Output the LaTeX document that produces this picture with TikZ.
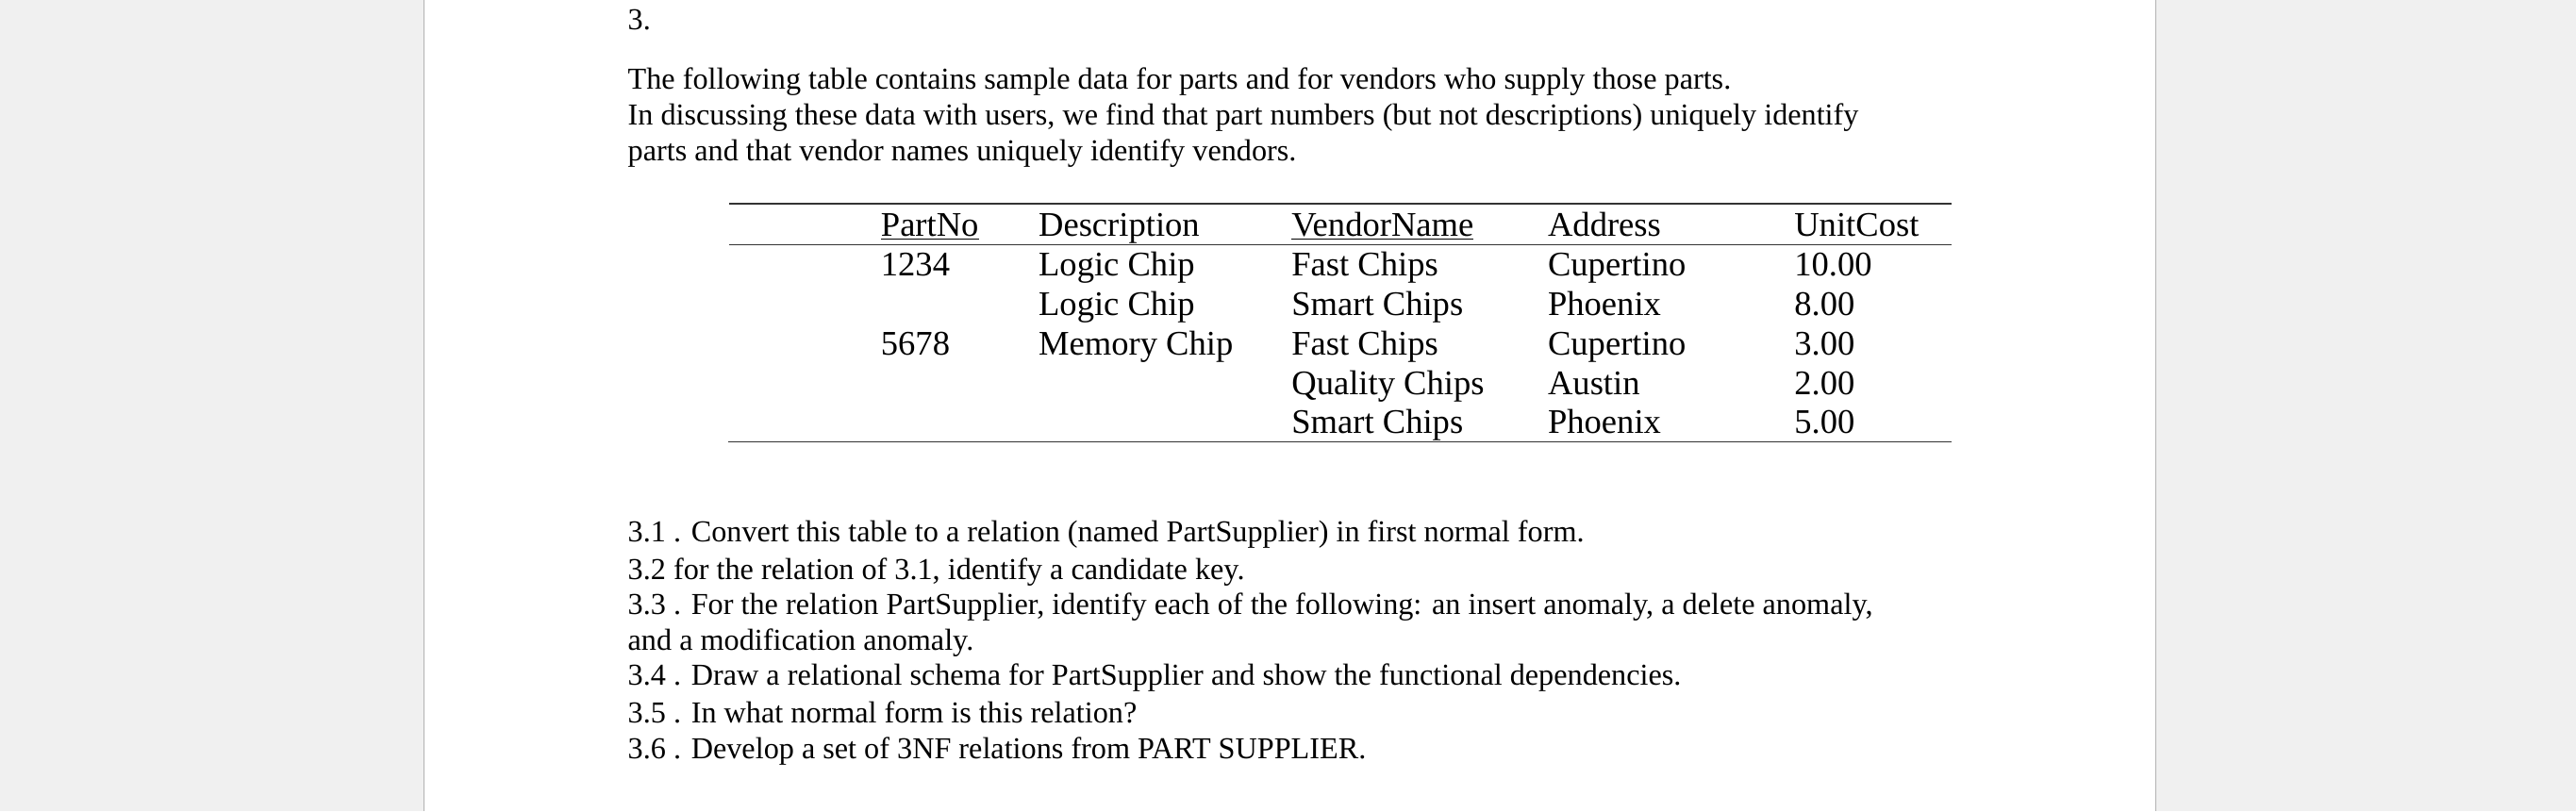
\documentclass[tikz,border=0pt]{standalone}
\usepackage{fontspec}
\setmainfont{Liberation Serif}
\begin{document}
\begin{tikzpicture}[x=1pt,y=-1pt,
  txt/.style={anchor=base west,inner sep=0pt,font=\fontsize{18.5}{22}\selectfont},
  cell/.style={anchor=base west,inner sep=0pt,font=\fontsize{21}{24}\selectfont},
  rule/.style={line width=1pt,black!80}]
\fill[gray!12] (0,0) rectangle (1568,494);
\useasboundingbox (0,0) rectangle (1568,494);
\fill[white] (258,0) rectangle (1312,494);
\draw[gray!60] (258,0) -- (258,494) (1312,0) -- (1312,494);
\node[txt] (n3) at (382,18) {3.};
\node[txt] (p1) at (382,54) {The following table contains sample data for parts and for vendors who supply those parts.};
\node[txt] (p2) at (382,76) {In discussing these data with users, we find that part numbers (but not descriptions) uniquely identify};
\node[txt] (p3) at (382,98) {parts and that vendor names uniquely identify vendors.};
\draw[rule] (444,124) -- (1188,124);
\draw[rule] (444,149) -- (1188,149);
\draw[rule] (443,269) -- (1188,269);
\node[cell] (h1) at (536,144) {\underline{PartNo}};
\node[cell] (h2) at (632,144) {Description};
\node[cell] (h3) at (786,144) {\underline{VendorName}};
\node[cell] (h4) at (942,144) {Address};
\node[cell] (h5) at (1092,144) {UnitCost};
\node[cell] (a1) at (536,168) {1234};
\node[cell] (b1) at (632,168) {Logic Chip};
\node[cell] (c1) at (786,168) {Fast Chips};
\node[cell] (d1) at (942,168) {Cupertino};
\node[cell] (e1) at (1092,168) {10.00};
\node[cell] (b2) at (632,192) {Logic Chip};
\node[cell] (c2) at (786,192) {Smart Chips};
\node[cell] (d2) at (942,192) {Phoenix};
\node[cell] (e2) at (1092,192) {8.00};
\node[cell] (a3) at (536,216) {5678};
\node[cell] (b3) at (632,216) {Memory Chip};
\node[cell] (c3) at (786,216) {Fast Chips};
\node[cell] (d3) at (942,216) {Cupertino};
\node[cell] (e3) at (1092,216) {3.00};
\node[cell] (c4) at (786,240) {Quality Chips};
\node[cell] (d4) at (942,240) {Austin};
\node[cell] (e4) at (1092,240) {2.00};
\node[cell] (c5) at (786,264) {Smart Chips};
\node[cell] (d5) at (942,264) {Phoenix};
\node[cell] (e5) at (1092,264) {5.00};
\node[txt] (q1) at (382,330) {3.1 . Convert this table to a relation (named PartSupplier) in first normal form.};
\node[txt] (q2) at (382,353) {3.2 for the relation of 3.1, identify a candidate key.};
\node[txt] (q3) at (382,374) {3.3 . For the relation PartSupplier, identify each of the following: an insert anomaly, a delete anomaly,};
\node[txt] (q3b) at (382,396) {and a modification anomaly.};
\node[txt] (q4) at (382,417) {3.4 . Draw a relational schema for PartSupplier and show the functional dependencies.};
\node[txt] (q5) at (382,440) {3.5 . In what normal form is this relation?};
\node[txt] (q6) at (382,462) {3.6 . Develop a set of 3NF relations from PART SUPPLIER.};
\end{tikzpicture}
\end{document}
